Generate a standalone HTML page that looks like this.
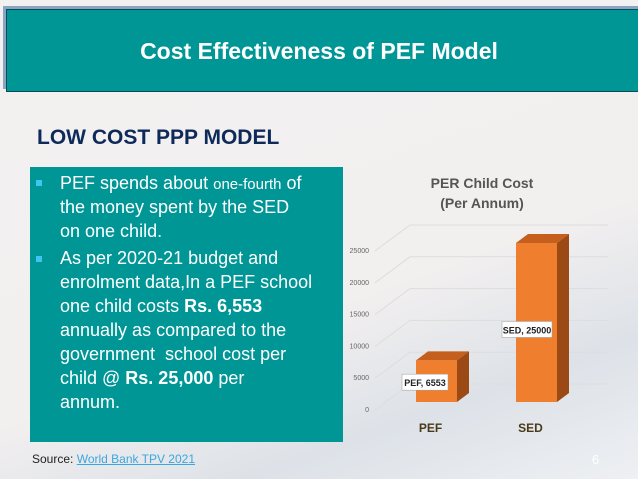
<!DOCTYPE html>
<html><head><meta charset="utf-8"><style>
body{margin:0}
#s{position:relative;width:638px;height:479px;overflow:hidden;background:linear-gradient(160deg,#f3f0f0 0%,#f2efef 60%,#dde2e8 80%,#eef0f3 100%);font-family:"Liberation Sans",sans-serif}
.ban{position:absolute;left:6px;top:9px;width:640px;height:83px;background:#009696;border:1px solid #0b4a55;box-shadow:-3px -3px 0 #8aa4c4;color:#fff;font:bold 23px "Liberation Sans",sans-serif;text-align:center;line-height:83px;padding-right:14px;box-sizing:border-box}
.h{position:absolute;left:37px;top:126px;font:bold 21px "Liberation Sans",sans-serif;color:#0e2a5a}
.box{position:absolute;left:30px;top:167px;width:313px;height:275px;background:#009696}
.ln{position:absolute;left:60px;color:#fff;font-size:18px;white-space:nowrap;line-height:20px}
.bl{position:absolute;left:36px;width:6px;height:6px;background:#3ec6f0}
.src{position:absolute;left:32px;top:452px;font-size:12px;color:#222}
.src a{color:#3aa7e0;text-decoration:underline}
.pg{position:absolute;left:592px;top:452px;font-size:13px;color:#fff}
</style></head><body>
<div id="s">
<div class="ban">Cost Effectiveness of PEF Model</div>
<div class="h">LOW COST PPP MODEL</div>
<div class="box"></div>
<div class="bl" style="top:180px"></div>
<div class="bl" style="top:256px"></div>
<div class="ln" style="top:173px">PEF spends about <span style="font-size:15px">one-fourth</span> of</div>
<div class="ln" style="top:197px">the money spent by the SED</div>
<div class="ln" style="top:221px">on one child.</div>
<div class="ln" style="top:248px">As per 2020-21 budget and</div>
<div class="ln" style="top:272px">enrolment data,In a PEF school</div>
<div class="ln" style="top:296px">one child costs <b>Rs. 6,553</b></div>
<div class="ln" style="top:320px">annually as compared to the</div>
<div class="ln" style="top:344px">government&nbsp; school cost per</div>
<div class="ln" style="top:368px">child @ <b>Rs. 25,000</b> per</div>
<div class="ln" style="top:392px">annum.</div>
<div class="src">Source: <a>World Bank TPV 2021</a></div>
<div class="pg">6</div>
<svg id="c" width="638" height="479" style="position:absolute;left:0;top:0"></svg>
</div>
<script>
const categories=["PEF","SED"];
const values=[6553,25000];
const ticks=[0,5000,10000,15000,20000,25000];
const NS="http://www.w3.org/2000/svg",svg=document.getElementById('c');
function mk(t,a,p){const e=document.createElementNS(NS,t);for(const k in a)e.setAttribute(k,a[k]);(p||svg).appendChild(e);return e;}
const base=402,k=159/25000;
function y(v){return base-v*k;}
const tT=mk('text',{x:482,y:188,'text-anchor':'middle','font-size':14,'font-weight':'bold',fill:'#555','font-family':'Liberation Sans'});

tT.textContent='PER Child Cost';
const tT2=mk('text',{x:482,y:208,'text-anchor':'middle','font-size':14,'font-weight':'bold',fill:'#555','font-family':'Liberation Sans'});

tT2.textContent='(Per Annum)';
ticks.forEach(t=>{const fy=y(t)+8,by=y(t)-18;
 const g=mk('polyline',{points:`375,${fy} 410,${by} 608,${by}`,fill:'none',stroke:'#ddd','stroke-width':1});
 
 const l=mk('text',{x:369,y:fy+2,'text-anchor':'end','font-size':7,fill:'#666','font-family':'Liberation Sans'});
 
 l.textContent=t;});
const xs=[416,516],w=41,dx=12,dy=9;
categories.forEach((c,i)=>{const x=xs[i],top=y(values[i]);
 const g=mk('g',{});
 mk('polygon',{points:`${x},${top} ${x+dx},${top-dy} ${x+w+dx},${top-dy} ${x+w},${top}`,fill:'#c45f1e'},g);
 mk('polygon',{points:`${x+w},${top} ${x+w+dx},${top-dy} ${x+w+dx},${base-dy} ${x+w},${base}`,fill:'#9c4a15'},g);
 mk('rect',{x:x,y:top,width:w,height:base-top,fill:'#ef7f2f'},g);
 const ly=i==0?(top+base)/2+2:y(values[i]*0.45);
 const lb=mk('rect',{x:x-14,y:ly-9,width:i==0?46:50,height:16,fill:'#fff',stroke:'#999','stroke-width':0.5});
 
 const lt=mk('text',{x:x-14+(i==0?23:25),y:ly+3,'text-anchor':'middle','font-size':9,'font-weight':'bold',fill:'#222','font-family':'Liberation Sans'});
 
 lt.textContent=c+', '+values[i];
 const xl=mk('text',{x:x+w/2-6,y:432,'text-anchor':'middle','font-size':12,'font-weight':'bold',fill:'#4a3a1a','font-family':'Liberation Sans'});
 
 xl.textContent=c;});
</script>
</body></html>
